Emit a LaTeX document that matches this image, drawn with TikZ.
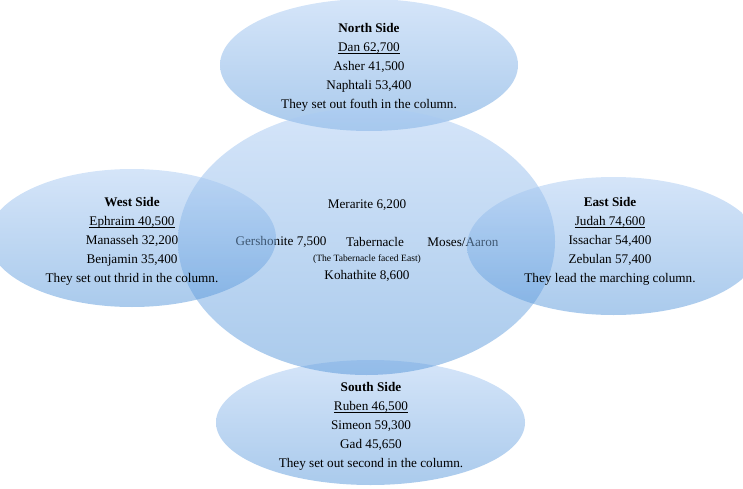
\documentclass[tikz,border=0pt]{standalone}
\usepackage{fontspec}
\setmainfont{Liberation Serif}
\usetikzlibrary{shapes.geometric}
\definecolor{ctop}{RGB}{171,203,243}
\definecolor{cbot}{RGB}{85,150,218}
\tikzset{
  blob/.style={ellipse, inner sep=0pt, top color=ctop, bottom color=cbot, fill opacity=0.5, draw=none},
  txt/.style={align=center, text=black, font=\fontsize{9.9}{14.25}\selectfont},
  small/.style={text=black, font=\fontsize{7.2}{9}\selectfont}
}
\newcommand{\ul}[1]{\underline{\smash{#1}}}
\begin{document}
\begin{tikzpicture}[x=0.75pt,y=-0.75pt]
\useasboundingbox (0,0) rectangle (743,489);
\clip (0,0) rectangle (743,489);
% ellipses
\node[blob, minimum width=298*0.75pt, minimum height=132*0.75pt] (north) at (369,65) {};
\node[blob, minimum width=309*0.75pt, minimum height=125*0.75pt] (south) at (370.5,422.5) {};
\node[blob, minimum width=377*0.75pt, minimum height=267*0.75pt] (centre) at (366.5,241.5) {};
% centre texts
\node[txt] (merarite) at (367,205) {Merarite 6,200};
\node[txt] (gershonite) at (281,242) {Gershonite 7,500};
\node[txt] (tabernacle) at (375,242) {Tabernacle};
\node[txt] (moses) at (463,242) {Moses/Aaron};
\node[small] (faced) at (367,259.5) {(The Tabernacle faced East)};
\node[txt] (kohathite) at (367,276) {Kohathite 8,600};
% side ellipses
\node[blob, minimum width=288*0.75pt, minimum height=138*0.75pt] (west) at (132,238) {};
\node[blob, minimum width=293*0.75pt, minimum height=138*0.75pt] (east) at (613.5,246) {};
% side texts
\node[txt, anchor=north] (northtxt) at (369,19) {\textbf{North Side}\\\ul{Dan 62,700}\\Asher 41,500\\Naphtali 53,400\\They set out fouth in the column.};
\node[txt, anchor=north] (westtxt) at (132,192.5) {\textbf{West Side}\\\ul{Ephraim 40,500}\\Manasseh 32,200\\Benjamin 35,400\\They set out thrid in the column.};
\node[txt, anchor=north] (easttxt) at (610,192.5) {\textbf{East Side}\\\ul{Judah 74,600}\\Issachar 54,400\\Zebulan 57,400\\They lead the marching column.};
\node[txt, anchor=north] (southtxt) at (371,378) {\textbf{South Side}\\\ul{Ruben 46,500}\\Simeon 59,300\\Gad 45,650\\They set out second in the column.};
\end{tikzpicture}
\end{document}
